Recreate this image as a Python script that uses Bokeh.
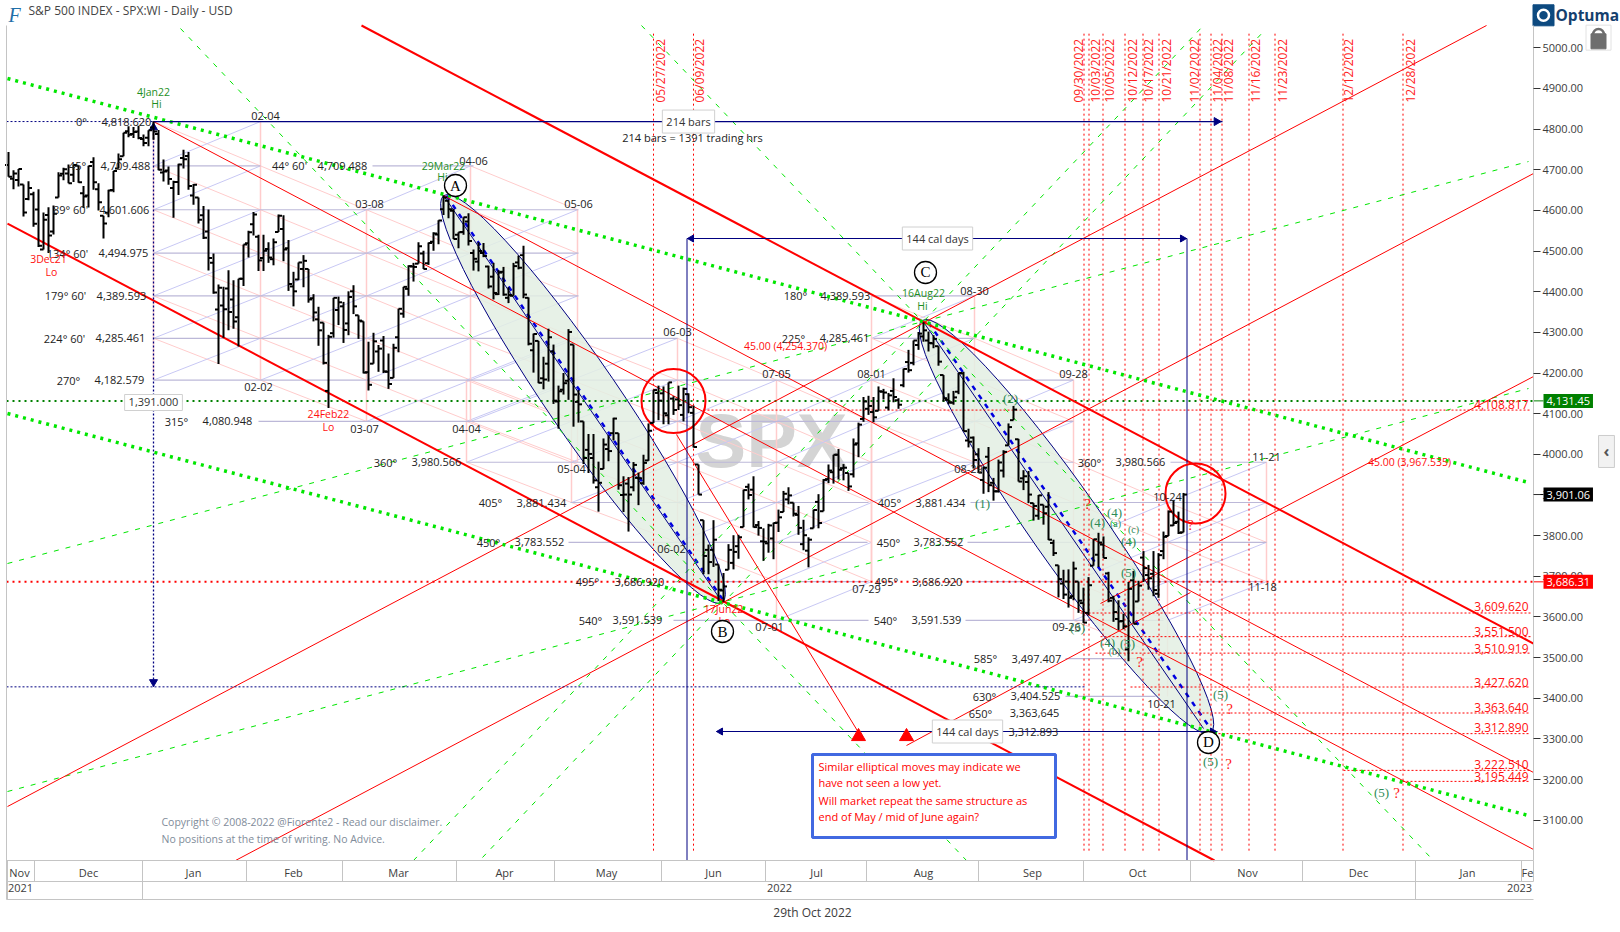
from math import radians
from bokeh.plotting import figure
from bokeh.core.properties import value
from bokeh.models import (Range1d, LinearAxis, FixedTicker, NumeralTickFormatter, Label,
                          SingleIntervalTicker, ColumnDataSource)
from bokeh.embed import file_html
from bokeh.resources import INLINE

FONT = "Open Sans"
SERIF = "Liberation Serif"

# ---------- daily OHLC, 22 Nov 2021 .. 28 Oct 2022 (bar number 0 = 1 Dec 2021) ----------
first_bar = -6
opens = [4712,4678,4675,4664,4628,4640,
 4602,4504,4589,4548,4632,4690,4691,4688,4710,4642,4637,4719,4652,4587,4594,4650,4703,4733,4795,4788,4794,4776,
 4779,4804,4788,4693,4698,4655,4670,4729,4734,4637,4632,4588,4548,4471,4356,4366,4408,4381,4337,4432,
 4519,4566,4535,4483,4505,4480,4547,4554,4507,4413,4430,4456,4456,4384,4332,4324,4156,4298,4355,
 4364,4322,4401,4342,4327,4202,4223,4253,4280,4203,4188,4288,4346,4407,4462,4469,4494,4470,4523,4541,4603,4624,4599,
 4540,4547,4573,4495,4474,4495,4462,4437,4394,4449,4385,4390,4472,4490,4385,4256,4279,4187,4223,4253,
 4130,4159,4181,4270,4129,4081,4011,3991,3919,3964,4013,4052,4052,3900,3928,3919,3942,3929,3985,4077,4151,
 4150,4096,4137,4135,4097,4148,4102,3975,3838,3765,3765,3729,3665,3716,3733,3774,3821,3920,3913,3826,3786,
 3781,3793,3832,3858,3889,3881,3851,3779,3763,3818,3883,3860,3939,3956,3999,3966,3954,3951,4027,4087,
 4112,4104,4107,4154,4115,4156,4133,4170,4227,4225,4269,4290,4280,4273,4266,4195,4134,4127,4154,4199,4034,4041,4000,
 3937,3994,3930,3909,3960,4022,4084,4037,3941,3932,3880,3849,3876,3871,3782,3727,3682,3687,3651,3687,3634,
 3610,3726,3753,3778,3707,3647,3595,3590,3520,3690,3638,3746,3703,3706,3657,3762,3799,3825,3834,3808]
highs = [4744,4699,4702,4664,4672,4646,
 4652,4595,4608,4612,4694,4705,4713,4713,4710,4660,4710,4731,4667,4587,4651,4697,4740,4791,4807,4805,4808,4787,
 4797,4819,4798,4725,4708,4673,4715,4749,4744,4665,4632,4611,4602,4494,4418,4412,4453,4428,4432,4516,
 4550,4596,4540,4540,4522,4531,4590,4588,4527,4449,4472,4490,4456,4394,4363,4324,4294,4385,4388,
 4375,4401,4416,4342,4327,4277,4299,4269,4291,4248,4272,4358,4412,4465,4471,4522,4501,4521,4546,4576,4637,4627,4604,
 4546,4583,4593,4504,4522,4520,4464,4471,4453,4461,4411,4471,4489,4513,4386,4297,4279,4240,4309,4270,
 4169,4200,4308,4270,4158,4081,4050,4050,3982,4039,4047,4090,4052,3946,3944,3981,3955,3999,4076,4158,4169,
 4167,4177,4143,4169,4164,4150,4120,3975,3838,3778,3838,3729,3708,3779,3801,3802,3913,3928,3946,3836,3818,
 3829,3832,3864,3910,3919,3881,3873,3839,3796,3864,3902,3939,3975,3999,4013,3976,3954,4039,4078,4141,
 4144,4141,4167,4161,4151,4187,4138,4211,4257,4280,4301,4325,4302,4293,4266,4195,4150,4156,4200,4203,4063,4044,4015,
 3970,4018,3942,3987,4010,4076,4119,4038,3961,3959,3880,3900,3876,3907,3790,3727,3716,3717,3736,3687,3672,
 3698,3791,3807,3798,3711,3652,3641,3608,3686,3713,3689,3762,3728,3762,3757,3810,3862,3887,3859,3905]
lows = [4683,4652,4659,4585,4625,4560,
 4510,4504,4495,4541,4632,4674,4667,4670,4668,4606,4607,4651,4600,4531,4583,4645,4703,4733,4780,4778,4775,4758,
 4758,4774,4699,4671,4663,4582,4638,4703,4651,4614,4568,4530,4452,4395,4222,4287,4305,4309,4265,4414,
 4484,4538,4451,4451,4471,4465,4547,4475,4402,4364,4429,4411,4373,4327,4267,4221,4114,4287,4318,
 4274,4293,4345,4284,4199,4157,4223,4203,4200,4161,4188,4251,4336,4390,4425,4469,4456,4466,4501,4517,4589,4581,4530,
 4507,4540,4514,4452,4450,4485,4408,4381,4392,4390,4372,4390,4455,4384,4268,4201,4175,4160,4179,4124,
 4063,4147,4134,4068,4078,3976,3954,3928,3859,3964,3983,4034,3913,3858,3810,3909,3875,3925,3984,4077,4084,
 4074,4074,4097,4109,4081,4101,4017,3901,3705,3705,3723,3639,3637,3716,3717,3743,3821,3889,3820,3800,3738,
 3758,3742,3809,3858,3877,3847,3802,3764,3722,3818,3818,3860,3929,3928,3938,3936,3910,3943,3993,4080,
 4097,4079,4107,4135,4108,4128,4112,4165,4201,4219,4257,4277,4253,4261,4218,4130,4123,4122,4148,4057,4017,3965,3954,
 3903,3907,3886,3906,3943,4022,4084,3933,3912,3880,3837,3839,3827,3789,3750,3648,3644,3623,3641,3610,3585,
 3604,3726,3723,3745,3636,3588,3568,3570,3491,3584,3638,3686,3667,3651,3647,3742,3799,3824,3804,3808]
closes = [4683,4691,4702,4595,4655,4567,
 4513,4577,4538,4592,4686,4701,4667,4712,4669,4634,4709,4669,4620,4568,4649,4697,4726,4791,4786,4793,4778,4766,
 4797,4794,4700,4696,4677,4670,4713,4726,4660,4663,4577,4533,4483,4398,4410,4357,4350,4327,4432,4516,
 4546,4590,4477,4501,4484,4522,4587,4504,4419,4401,4472,4476,4381,4349,4305,4225,4289,4385,4374,
 4306,4387,4364,4329,4201,4171,4278,4260,4204,4173,4262,4358,4412,4463,4461,4512,4456,4520,4543,4575,4632,4603,4530,
 4546,4583,4525,4481,4500,4488,4413,4397,4447,4393,4392,4463,4459,4393,4272,4296,4176,4184,4288,4132,
 4155,4175,4301,4147,4123,3991,4001,3936,3930,4024,4008,4088,3924,3901,3901,3974,3941,3979,4058,4158,4132,
 4101,4177,4109,4121,4161,4116,4018,3901,3750,3735,3790,3667,3675,3765,3760,3796,3912,3900,3821,3819,3785,
 3825,3831,3845,3903,3899,3854,3819,3801,3790,3863,3831,3937,3960,3999,3962,3967,3921,4024,4073,4130,
 4119,4091,4155,4152,4145,4141,4122,4210,4207,4280,4297,4305,4274,4284,4228,4138,4128,4140,4200,4057,4031,3986,3955,
 3967,3924,3909,3980,4006,4067,4110,3933,3946,3901,3873,3899,3855,3790,3757,3693,3655,3647,3719,3640,3586,
 3678,3791,3783,3745,3640,3612,3589,3577,3669,3583,3677,3720,3695,3666,3752,3797,3859,3831,3807,3901]

# ---------- Gann price levels and lattice columns ----------
gann_levels = [4818.62,4709.488,4601.606,4494.975,4389.593,4285.461,4182.579,4080.948,
               3980.566,3881.434,3783.552,3686.92,3591.539,3497.407,3404.525]
lattice1_cols = [23,44.4,65.6,86.4,107.8]
lattice1_span = [(0,6),(0,6),(2,7),(1,7),(2,8)]
lattice2_cols = [85.6,106.6,127.8,147.6,166.6]
lattice2_span = [(6,8),(5,9),(5,10),(6,12),(6,11)]
lattice3_cols = [166.6,187.2,207,225.8,245.6]
lattice3_span = [(4,11),(4,8),(6,12),(9,14),(8,11)]
level_prices = [4709.488,4709.488,4601.606,4494.975,4389.593,4389.593,4285.461,4285.461,4285.461,4182.579,4080.948,
                3980.566,3980.566,3881.434,3881.434,3783.552,3783.552,3686.92,3686.92,3591.539,3591.539,3497.407,3404.525]
level_from = [23,66.8,23,23,23,166.6,23,108,167,23,44,85.6,226.4,106.4,186.4,106,185.8,127,185.8,127,185.4,205.4,205.4]
level_to = [44.4,87,108,108,108,187.2,108,127.8,187.2,207,207,207,245.6,166,245.6,165.8,245.6,166,245,166,225,224.4,223.4]

# ---------- trend lines: bar numbers and prices at both ends ----------
thick_red = [([64.6,299],[5054.9,3534.6]), ([-6.2,235.2],[4567.8,3000.8])]
thin_red = [([23,299],[4818.62,3027.9]), ([81,299],[4636.7,3217.3]), ([127.6,164],[4048.8,3315.7]),
            ([-6.2,289.6],[3133.6,5054.9]), ([39.4,299],[3000.8,4690.8]), ([212.4,299],[3633,4191.4]),
            ([173.6,230.4],[3283.7,3660.1])]
thick_green = [([-6.2,298],[4924.5,3930.7]), ([-6.2,298],[4100.4,3111.5])]
thin_green = [([-6.2,298],[3731.4,4720.3]), ([-6.2,298],[3170.5,4161.9]), ([28.4,185.6],[5047.5,3000.8]),
              ([120.6,278.6],[5054.9,3005.7]), ([75,233],[3000.8,5054.9]), ([88.8,245.4],[3008.2,5045.1])]

# ---------- horizontal levels ----------
green_level = 4131.45
red_level = 3686.31
last_close = 3901.06
red_dotted_prices = [4108.817,3609.62,3551.5,3510.919,3427.62,3363.64,3312.89,3222.51,3195.449]
red_dotted_from = [133,208.4,212.4,211.4,218.4,230.4,234.4,261,272.8]
red_dotted_labels = ["4,108.817","3,609.620","3,551.500","3,510.919","3,427.620","3,363.640","3,312.890","3,222.510","3,195.449"]
red_dotted_label_y = [4122.6,3625.6,3564.1,3522.3,3438.7,3377.2,3328,3237,3207.4]

# ---------- vertical date lines ----------
date_lines = [123,131,209.1,210.1,212.9,217.3,220.9,224.1,232.3,234.5,236.7,242.1,247.3,260.9,272.9]
date_text_x = [124.4,132.2,207.9,211.4,214.2,218.8,222,225.6,231.2,235.8,238,243.4,248.8,262,274.4]
date_text = ["05/27/2022","06/09/2022","09/30/2022","10/03/2022","10/05/2022","10/12/2022","10/17/2022","10/21/2022",
             "11/02/2022","11/04/2022","11/08/2022","11/16/2022","11/23/2022","12/12/2022","12/28/2022"]

# ---------- ellipses ----------
ell_x = [108.9,205.6]
ell_y = [4136.1,3822.4]
ell_len = [493,503]
ell_wid = [72,72]
ell_ang = [-55.6,-55]
chords = [([81,136.8],[4636.7,3635.5]), ([176.8,233],[4329.2,3325.5])]
blue_dash = [([81.6,137],[4636,3640]), ([178,234.4],[4324,3325.5])]

# ---------- texts: (text, bar, price) ----------
black_text = [("0°",8.6,4818.6),("4,818.620",17.6,4818.6),("45°",7.8,4709.5),("4,709.488",17.4,4709.5),
 ("89° 60'",6.4,4601.6),("4,601.606",17.2,4601.6),("134° 60'",5.8,4495),("4,494.975",17,4495),
 ("179° 60'",5.4,4389.6),("4,389.593",16.6,4389.6),("224° 60'",5.2,4285.5),("4,285.461",16.4,4285.5),
 ("270°",6,4182.6),("4,182.579",16.2,4182.6),("315°",27.6,4081),("4,080.948",37.8,4081),
 ("360°",69.4,3980.6),("3,980.566",79.6,3980.6),("405°",90.4,3881.4),("3,881.434",100.6,3881.4),
 ("450°",90,3783.6),("3,783.552",100.2,3783.6),("495°",109.8,3686.9),("3,686.920",120.2,3686.9),
 ("540°",110.4,3591.5),("3,591.539",119.8,3591.5),("44° 60'",50.2,4709.5),("4,709.488",60.8,4709.5),
 ("180°",151.4,4389.6),("4,389.593",161.4,4389.6),("225°",151,4285.5),("4,285,461",161.2,4285.5),
 ("405°",170.2,3881.4),("3,881.434",180.4,3881.4),("450°",170,3783.6),("3,783.552",180,3783.6),
 ("495°",169.6,3686.9),("3,686.920",179.8,3686.9),("540°",169.4,3591.5),("3,591.539",179.6,3591.5),
 ("360°",210.2,3980.6),("3,980.566",220.4,3980.6),("585°",189.4,3497.4),("3,497.407",199.6,3497.4),
 ("630°",189.2,3404.5),("3,404.525",199.4,3404.5),("650°",188.4,3363.6),("3,363,645",199.2,3363.6),
 ("3,312.893",199,3318),
 ("02-04",45.4,4833.5),("02-02",44,4166.8),("03-08",66.2,4614.6),("03-07",65.2,4063.5),("04-06",87,4722.8),
 ("04-04",85.6,4063.5),("05-06",108,4614.6),("05-04",106.6,3962.7),("06-03",127.8,4299.7),("06-02",126.6,3765.9),
 ("07-05",147.6,4196.4),("07-01",146.2,3574),("08-01",166.6,4196.4),("07-29",165.6,3669.9),("08-30",187.2,4403),
 ("08-29",186,3962.7),("09-28",207,4196.4),("09-26",205.6,3574),("10-24",225.8,3893.8),("10-21",224.6,3387),
 ("11-21",245.6,3992.2),("11-18",244.8,3672.4),("214 bars = 1391 trading hrs",130.8,4779.4)]
green_text = [("4Jan22",23,4892.5),("Hi",23.6,4863),("29Mar22",81,4710.5),("Hi",80.8,4681),("16Aug22",177,4398),("Hi",176.8,4366)]
red_text = [("3Dec21",2,4481.7),("Lo",2.6,4449.7),("24Feb22",58,4100.4),("Lo",58,4068.4),("17Jun22",137,3620.7),
            ("Lo",137.2,3591.2),("45.00 (4,254.370)",149.4,4267.7),("45.00 (3,967.535)",274.2,3979.9)]
wave_text = [("(1)",188.8,3879),("(2)",194.4,4137.3),("(4)",211.8,3832),("(4)",215.2,3856.9),("(4)",218,3785.5),
             ("(5)",218,3709.3),("(4)",213.8,3537),("(5)",217.8,3534.6),("(3)",207.8,3574),("(5)",236.4,3409.2),
             ("(5)",234.4,3244.3),("(5)",268.6,3168)]
wave_small = [("(a)",215.4,3830),("(c)",219,3815),("(b)",215.2,3515)]
question_text = [("?",209.8,3879),("?",230.4,3825),("?",220.2,3490.3),("?",238.2,3374.7),("?",238,3239.4),("?",271.6,3168)]
circled = [("A",83.4,4661.3),("B",136.8,3564.1),("C",177.4,4447.3),("D",234,3291.1)]
note_lines = ["Similar elliptical moves may indicate we","have not seen a low yet.",
              "Will market repeat the same structure as","end of May / mid of June again?"]
note_y = [3232,3192.7,3148.4,3109]
copyright_lines = ["Copyright © 2008-2022 @Fiorente2 -  Read our disclaimer.","No positions at the time of writing. No Advice."]
copyright_y = [3094.3,3052.5]

# ---------- axis ----------
month_bounds = [-6.3,-0.8,20.7,41.6,60.8,83.6,103.2,124.6,145.3,165.6,188,209,230.4,252.8,275.4,296.6,299]
month_pos = [-3.8,10,31,51,72,93.2,113.6,135,155.6,177,198.8,219.8,241.8,264,285.8,297.8]
month_names = ["Nov","Dec","Jan","Feb","Mar","Apr","May","Jun","Jul","Aug","Sep","Oct","Nov","Dec","Jan","Fe"]
year_bounds = [-6.3,20.7,275.4]
year_pos = [-3.6,148.2,296.2]
year_names = ["2021","2022","2023"]

# the frame fills the whole canvas so that tags and header, which lie outside the chart area, are not clipped
chart_left, chart_right = -6.4, 299
chart_bottom, chart_top = 3000.7, 5054.9
month_row_bottom, year_row_bottom = 2949.1, 2904.9
p = figure(width=1620, height=932, output_backend="svg", toolbar_location=None,
           x_range=Range1d(-7.6,316.4), y_range=Range1d(2823.7,5116.4),
           x_axis_type=None, y_axis_type=None,
           min_border=0, min_border_left=0, min_border_right=0, min_border_top=0, min_border_bottom=0,
           outline_line_color=None, background_fill_color="white", border_fill_color="white")
GRAY = "#c4c4c4"
TXT = "#3c3c3c"

price_axis = LinearAxis(fixed_location=chart_right, bounds=(chart_bottom,chart_top),
                        ticker=SingleIntervalTicker(interval=100), formatter=NumeralTickFormatter(format="0.00"),
                        axis_line_color=GRAY, major_tick_out=7, major_tick_in=0, major_tick_line_color="#333333",
                        minor_tick_line_color=None, major_label_text_font=FONT,
                        major_label_text_color=TXT, major_label_standoff=2)
price_axis.major_label_text_font_size = "11px"
p.add_layout(price_axis, "right")
left_line = LinearAxis(fixed_location=chart_left, bounds=(year_row_bottom,chart_top), ticker=FixedTicker(ticks=[]),
                       axis_line_color=GRAY, major_label_text_font_size="0px",
                       major_tick_line_color=None, minor_tick_line_color=None)
p.add_layout(left_line, "left")
month_axis = LinearAxis(fixed_location=chart_bottom, bounds=(chart_left,chart_right),
                        ticker=FixedTicker(ticks=month_pos, minor_ticks=month_bounds),
                        major_label_overrides={t: n for t, n in zip(month_pos, month_names)},
                        axis_line_color=GRAY, major_tick_line_color=None, minor_tick_out=21, minor_tick_in=0,
                        minor_tick_line_color=GRAY, major_label_text_font=FONT, major_label_text_font_size="11px",
                        major_label_text_color=TXT, major_label_standoff=-17)
p.add_layout(month_axis, "below")
year_axis = LinearAxis(fixed_location=month_row_bottom, bounds=(chart_left,chart_right),
                       ticker=FixedTicker(ticks=year_pos, minor_ticks=year_bounds),
                       major_label_overrides={t: n for t, n in zip(year_pos, year_names)},
                       axis_line_color=GRAY, major_tick_line_color=None, minor_tick_out=18, minor_tick_in=0,
                       minor_tick_line_color=GRAY, major_label_text_font=FONT, major_label_text_font_size="11px",
                       major_label_text_color=TXT, major_label_standoff=-16)
p.add_layout(year_axis, "below")
p.segment([chart_left],[year_row_bottom],[chart_right],[year_row_bottom],line_color=GRAY,line_width=1)

# watermark
p.text([146.6],[4034],text=["SPX"],text_font=value("Liberation Sans"),text_font_style="bold",text_font_size="76px",
       text_color="#d4d4d4",text_align="center",text_baseline="middle")

# lattices
pink, lav, vert_x, vert_y = [], [], [], []
for cols, span in ((lattice1_cols,lattice1_span),(lattice2_cols,lattice2_span),(lattice3_cols,lattice3_span)):
    for k,(lo,hi) in enumerate(span):
        vert_x.append([cols[k],cols[k]])
        vert_y.append([gann_levels[lo],gann_levels[hi]])
        if k+1 < len(cols):
            lo2,hi2 = span[k+1]
            for i in range(len(gann_levels)-1):
                if lo<=i<=hi and lo2<=i+1<=hi2:
                    pink.append(([cols[k],cols[k+1]],[gann_levels[i],gann_levels[i+1]]))
                if lo<=i+1<=hi and lo2<=i<=hi2:
                    lav.append(([cols[k],cols[k+1]],[gann_levels[i+1],gann_levels[i]]))
p.multi_line([a for a,b in pink],[b for a,b in pink],line_color="#ffcccc",line_width=1)
p.multi_line([a for a,b in lav],[b for a,b in lav],line_color="#c8c8f4",line_width=1)
p.multi_line(vert_x,vert_y,line_color="#ffcccc",line_width=1.5)
p.segment(level_from,level_prices,level_to,level_prices,line_color="#bcb8d8",line_width=1.2)

# ellipses
p.ellipse(ell_x,ell_y,width=ell_len,height=ell_wid,angle=[radians(a) for a in ell_ang],
          width_units="screen",height_units="screen",fill_color="#e3efe3",fill_alpha=0.85,
          line_color="#000080",line_width=1)
for xs,ys in chords:
    p.line(xs,ys,line_color="#000080",line_width=1)
for xs,ys in blue_dash:
    p.line(xs,ys,line_color="#0000e0",line_width=2.5,line_dash="5 6")

# horizontal dotted levels
p.segment([chart_left],[green_level],[chart_right],[green_level],line_color="#008000",line_width=2,line_dash="2 4")
p.segment([chart_left],[red_level],[chart_right],[red_level],line_color="#ff0000",line_width=2,line_dash="2 4")
p.segment(red_dotted_from,red_dotted_prices,[298.4]*len(red_dotted_prices),red_dotted_prices,
          line_color="#ff0000",line_width=1,line_dash="2 2")

# vertical date lines
p.segment(date_lines,[3025]*len(date_lines),date_lines,[5035]*len(date_lines),line_color="#ff0000",line_width=1,line_dash="2 3")

# trend lines
for xs,ys in thin_green:
    p.line(xs,ys,line_color="#00e600",line_width=1,line_dash="5 7")
for xs,ys in thin_red:
    p.line(xs,ys,line_color="#ff0000",line_width=1)
for xs,ys in thick_red:
    p.line(xs,ys,line_color="#ff0000",line_width=2)
for xs,ys in thick_green:
    p.line(xs,ys,line_color="#00e600",line_width=3.5,line_dash="3 5")

# navy measures
NAVY = "#000080"
p.line([23,236.8],[4818.62,4818.62],line_color=NAVY,line_width=1.2)
p.line([chart_left,23],[4818.62,4818.62],line_color=NAVY,line_width=1,line_dash="2 2")
p.line([23,23],[4818.62,3428.8],line_color=NAVY,line_width=1.3,line_dash="2 2")
p.line([chart_left,209.4],[3428,3428],line_color=NAVY,line_width=1,line_dash="2 2")
p.line([129.7,229.7],[4530.9,4530.9],line_color=NAVY,line_width=1.2)
p.line([135.6,235.8],[3318.1,3318.1],line_color=NAVY,line_width=1.2)
p.segment([129.7,229.7],[4530.9,4530.9],[129.7,229.7],[chart_bottom,chart_bottom],line_color=NAVY,line_width=1)
p.scatter([23],[4804],marker="triangle",size=8,color=NAVY)
p.scatter([23],[3440],marker="inverted_triangle",size=8,color=NAVY)
p.scatter([235.6],[4818.62],marker="triangle",size=8,color=NAVY,angle=radians(-90))
p.scatter([130.6],[4530.9],marker="triangle",size=7,color=NAVY,angle=radians(90))
p.scatter([228.8],[4530.9],marker="triangle",size=7,color=NAVY,angle=radians(-90))
p.scatter([136.4],[3318.1],marker="triangle",size=7,color=NAVY,angle=radians(90))
p.scatter([234.8],[3318.1],marker="triangle",size=7,color=NAVY,angle=radians(-90))

# red circles and arrows
p.scatter([127,231.4],[4131,3903.6],marker="circle",size=[64,60],fill_color=None,line_color="#ff0000",line_width=2)
p.scatter([164,173.6],[3305.8,3305.8],marker="triangle",size=14,color="#ff0000")

# note box
p.quad(left=[154.8],right=[203.4],top=[3261.6],bottom=[3057.4],fill_color="white",line_color="#4169e1",line_width=3)

# bars
xs = list(range(first_bar, first_bar+len(closes)))
src = ColumnDataSource(dict(x=xs, o=opens, h=highs, l=lows, c=closes,
                            xl=[v-0.7 for v in xs], xr=[v+0.7 for v in xs]))
p.segment("x","l","x","h",source=src,line_color="#000000",line_width=2)
p.segment("xl","o","x","o",source=src,line_color="#000000",line_width=2)
p.segment("x","c","xr","c",source=src,line_color="#000000",line_width=2)

def put(items, font=FONT, **kw):
    d = dict(text=[t for t,_,_ in items], x=[a for _,a,_ in items], y=[b for _,_,b in items])
    kw.setdefault("text_align","center"); kw.setdefault("text_baseline","middle")
    p.text("x","y",text="text",source=ColumnDataSource(d),text_font=value(font),**kw)

put(black_text,text_color="#222222",text_font_size="11px")
put(green_text,text_color="#1f8f1f",text_font_size="10.5px")
put(red_text,text_color="#ff1010",text_font_size="10.5px")
put(wave_text,font=SERIF,text_color="#2e8b57",text_font_size="13px")
put(wave_small,font=SERIF,text_color="#2e8b57",text_font_size="10px")
put(question_text,font=SERIF,text_color="#ff2020",text_font_size="15px")
put(list(zip(red_dotted_labels,[298]*9,red_dotted_label_y)),text_color="#ff1010",text_font_size="12px",text_align="right")
p.text(date_text_x,[4865.5]*len(date_text_x),text=date_text,angle=radians(90),text_align="left",text_baseline="middle",
       text_font=value(FONT),text_font_size="12px",text_color="#ff2020")
p.text([156]*4,note_y,text=note_lines,text_align="left",text_baseline="middle",text_font=value(FONT),text_font_size="11px",text_color="#ff0000")
p.text([24.6]*2,copyright_y,text=copyright_lines,text_align="left",text_baseline="middle",text_font=value(FONT),
       text_font_size="10.5px",text_color="#7f8c9a")
p.scatter([a for _,a,_ in circled],[b for _,_,b in circled],marker="circle",size=22,fill_color="white",line_color="#000000",line_width=1.3)
put(circled,font=SERIF,text_color="#000000",text_font_size="15px")

# boxed labels
def boxed(text, x, y, size="11px", color="#333333"):
    p.add_layout(Label(x=x,y=y,text=text,text_align="center",text_baseline="middle",text_font=FONT,text_font_size=size,
                       text_color=color,background_fill_color="white",border_line_color="#d0d0d0",padding=4))
boxed("1,391.000",23,4127.5)
boxed("214 bars",130,4818.62)
boxed("144 cal days",179.8,4530.9)
boxed("144 cal days",185.8,3318.1)

# header, tags and logos around the chart area
def lab(text,x,y,**kw):
    kw.setdefault("text_align","left"); kw.setdefault("text_baseline","middle"); kw.setdefault("text_font",FONT)
    p.add_layout(Label(x=x,y=y,text=text,**kw))
lab("S&P 500 INDEX - SPX:WI - Daily - USD",-2,5091.8,text_font_size="12px",text_color="#444444")
lab("F",-6,5081,text_font=SERIF,text_font_style="italic",text_font_size="20px",text_color="#1f6fa8")
lab("29th Oct 2022",154.8,2873,text_align="center",text_font_size="12px",text_color=TXT)
p.segment([chart_right]*3,[green_level,last_close,red_level],[301]*3,[green_level,last_close,red_level],
          line_color=["#008000","#000000","#ff0000"],line_width=1)
lab("4,131.45",301,green_level,text_font_size="11px",text_color="white",background_fill_color="#008000",padding=3)
lab("3,901.06",301,last_close,text_font_size="11px",text_color="white",background_fill_color="#000000",padding=3)
lab("3,686.31",301,red_level,text_font_size="11px",text_color="white",background_fill_color="#ff0000",padding=3)
lab("Optuma",303.4,5080,text_font_size="15.5px",text_font_style="bold",text_color="#15406e")
p.scatter([301],[5080],marker="square",size=21,color="#0d4a80")
p.scatter([301],[5080],marker="circle",size=11,fill_color=None,line_color="white",line_width=2.5)
p.scatter([312],[5025],marker="square",size=25,fill_color="white",line_color="#e2e2e2",line_width=1)
p.scatter([312],[5033],marker="circle",size=11,fill_color=None,line_color="#6e6e6e",line_width=2.5)
p.scatter([312],[5016],marker="square",size=15,color="#6e6e6e")
lab("‹",313.6,4007,text_font_size="16px",text_font_style="bold",text_color="#555555",text_align="center",
    background_fill_color="#f2f2f2",border_line_color="#cccccc",padding=5)

open("out.html","w").write(file_html(p, INLINE))
